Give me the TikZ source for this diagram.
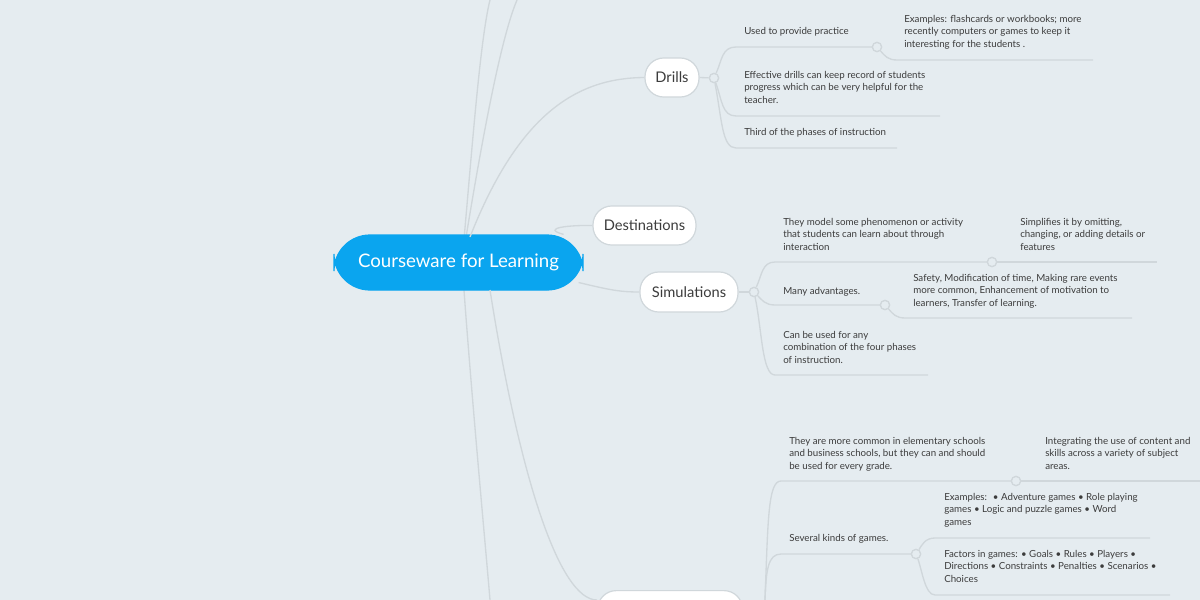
\documentclass[tikz,border=0pt]{standalone}
\usepackage{fontspec}
\setmainfont{Lato}
\definecolor{bg}{HTML}{E5ECF0}
\definecolor{ln}{HTML}{D0D7DB}
\definecolor{tx}{HTML}{3C3C3C}
\definecolor{rootc}{HTML}{0AA5EF}
\begin{document}
\begin{tikzpicture}[x=0.75pt,y=-0.75pt,
  conn/.style={draw=ln,line width=1pt},
  knob/.style={circle,draw=ln,fill=bg,line width=1pt,inner sep=0pt,minimum size=7pt},
  topic/.style={draw=ln,fill=white,rounded corners=14pt,line width=0.9pt,text=tx,font=\fontsize{11}{13}\selectfont,inner sep=0pt},
  leaf/.style={anchor=north west,align=left,text=tx,font=\fontsize{7.3}{9.4}\selectfont,inner sep=0pt}]
\fill[bg] (0,0) rectangle (1200,600);
\useasboundingbox (0,0) rectangle (1200,600);
% root connectors
\coordinate (r0) at (462,262);
\coordinate (t1) at (490,0);
\coordinate (t2) at (517,0);
\coordinate (b1) at (490,600);
\draw[conn] (r0) .. controls (472,150) and (480,40) .. (t1);
\draw[conn] (r0) .. controls (480,150) and (500,40) .. (t2);
\draw[conn] (r0) .. controls (470,380) and (485,540) .. (b1);
% topics
\node[topic,fill=rootc,draw=rootc,text=white,rounded corners=27pt,minimum width=249pt*0.75,minimum height=55pt*0.75,font=\fontsize{14}{16}\selectfont] (root) at (458.5,262.5) {Courseware for Learning};
\node[topic,minimum width=54*0.75pt,minimum height=39*0.75pt] (drills) at (672,77.5) {Drills};
\node[topic,minimum width=103*0.75pt,minimum height=39*0.75pt] (dest) at (644.5,225.5) {Destinations};
\node[topic,minimum width=98*0.75pt,minimum height=40*0.75pt] (sim) at (689,292) {Simulations};
\begin{scope}[on background layer/.style={}]
\end{scope}
\draw[conn] (470,237) .. controls (520,110) and (580,78) .. (drills.west);
\draw[conn] (root.north east) ++(-20,0) .. controls (540,228) and (570,225) .. (dest.west);
\draw[conn] (root.east) ++(-5,20) .. controls (610,290) and (620,292) .. (sim.west);
\coordinate (gtop) at (597,600);
\draw[conn] (490,290) .. controls (520,480) and (560,600) .. (gtop);
\node[topic,minimum width=145*0.75pt,minimum height=40*0.75pt,anchor=north west] (games) at (597,590) {};
% Drills children
\node[knob] (dk) at (714,78) {};
\draw[conn] (drills.east) -- (dk);
\coordinate (d1a) at (736,47); \coordinate (d1b) at (876,47);
\coordinate (d2a) at (736,116); \coordinate (d2b) at (940,116);
\coordinate (d3a) at (736,148); \coordinate (d3b) at (897,148);
\draw[conn] (dk) .. controls (722,60) and (722,47) .. (d1a) -- (d1b);
\draw[conn] (dk) .. controls (722,100) and (722,116) .. (d2a) -- (d2b);
\draw[conn] (dk) .. controls (722,120) and (722,148) .. (d3a) -- (d3b);
\node[leaf] (d1) at (744,27) {Used to provide practice};
\node[leaf] (d2) at (744,71) {Effective drills can keep record of students\\progress which can be very helpful for the\\teacher.};
\node[leaf] (d3) at (744,128) {Third of the phases of instruction};
\node[knob] (dk2) at (877,47) {};
\coordinate (e1a) at (897,60); \coordinate (e1b) at (1093,60);
\draw[conn] (dk2) .. controls (885,56) and (888,60) .. (e1a) -- (e1b);
\node[leaf] (e1) at (904,15) {Examples: flashcards or workbooks; more\\recently computers or games to keep it\\interesting for the students .};
% Simulations children
\node[knob] (sk) at (754,292) {};
\draw[conn] (sim.east) -- (sk);
\coordinate (s1a) at (775,262); \coordinate (s1b) at (990,262);
\coordinate (s2a) at (775,305); \coordinate (s2b) at (885,305);
\coordinate (s3a) at (775,375); \coordinate (s3b) at (928,375);
\draw[conn] (sk) .. controls (762,275) and (762,262) .. (s1a) -- (s1b);
\draw[conn] (sk) .. controls (762,300) and (765,305) .. (s2a) -- (s2b);
\draw[conn] (sk) .. controls (762,330) and (762,375) .. (s3a) -- (s3b);
\node[leaf] (s1) at (783,218) {They model some phenomenon or activity\\that students can learn about through\\interaction};
\node[leaf] (s2) at (783,287) {Many advantages.};
\node[leaf] (s3) at (783,331) {Can be used for any\\combination of the four phases\\of instruction.};
\node[knob] (sk1) at (992,262) {};
\coordinate (u1b) at (1157,262);
\draw[conn] (sk1) -- (u1b);
\node[leaf] (u1) at (1020,218) {Simplifies it by omitting,\\changing, or adding details or\\features};
\node[knob] (sk2) at (885,305) {};
\coordinate (u2a) at (905,318); \coordinate (u2b) at (1132,318);
\draw[conn] (sk2) .. controls (893,314) and (896,318) .. (u2a) -- (u2b);
\node[leaf] (u2) at (913,274) {Safety, Modification of time, Making rare events\\more common, Enhancement of motivation to\\learners, Transfer of learning.};
% Games children
\coordinate (gk) at (765,600);
\coordinate (g1a) at (781,481); \coordinate (g1b) at (1015,481);
\coordinate (g2a) at (781,554); \coordinate (g2b) at (915,554);
\draw[conn] (gk) .. controls (768,520) and (768,481) .. (g1a) -- (g1b);
\draw[conn] (gk) .. controls (766,570) and (768,554) .. (g2a) -- (g2b);
\node[leaf] (g1) at (789,437) {They are more common in elementary schools\\and business schools, but they can and should\\be used for every grade.};
\node[leaf] (g2) at (789,534) {Several kinds of games.};
\node[knob] (gk1) at (1016,481) {};
\coordinate (h1b) at (1200,481);
\draw[conn] (gk1) -- (h1b);
\node[leaf] (h1) at (1045,437) {Integrating the use of content and\\skills across a variety of subject\\areas.};
\node[knob] (gk2) at (916,554) {};
\coordinate (h2a) at (935,538); \coordinate (h2b) at (1150,538);
\coordinate (h3a) at (935,595); \coordinate (h3b) at (1170,595);
\draw[conn] (gk2) .. controls (922,545) and (925,538) .. (h2a) -- (h2b);
\draw[conn] (gk2) .. controls (922,570) and (925,595) .. (h3a) -- (h3b);
\node[leaf] (h2) at (944,493) {Examples: \ • Adventure games • Role playing\\games • Logic and puzzle games • Word\\games};
\node[leaf] (h3) at (944,550) {Factors in games: • Goals • Rules • Players •\\Directions • Constraints • Penalties • Scenarios •\\Choices};
\end{tikzpicture}
\end{document}
